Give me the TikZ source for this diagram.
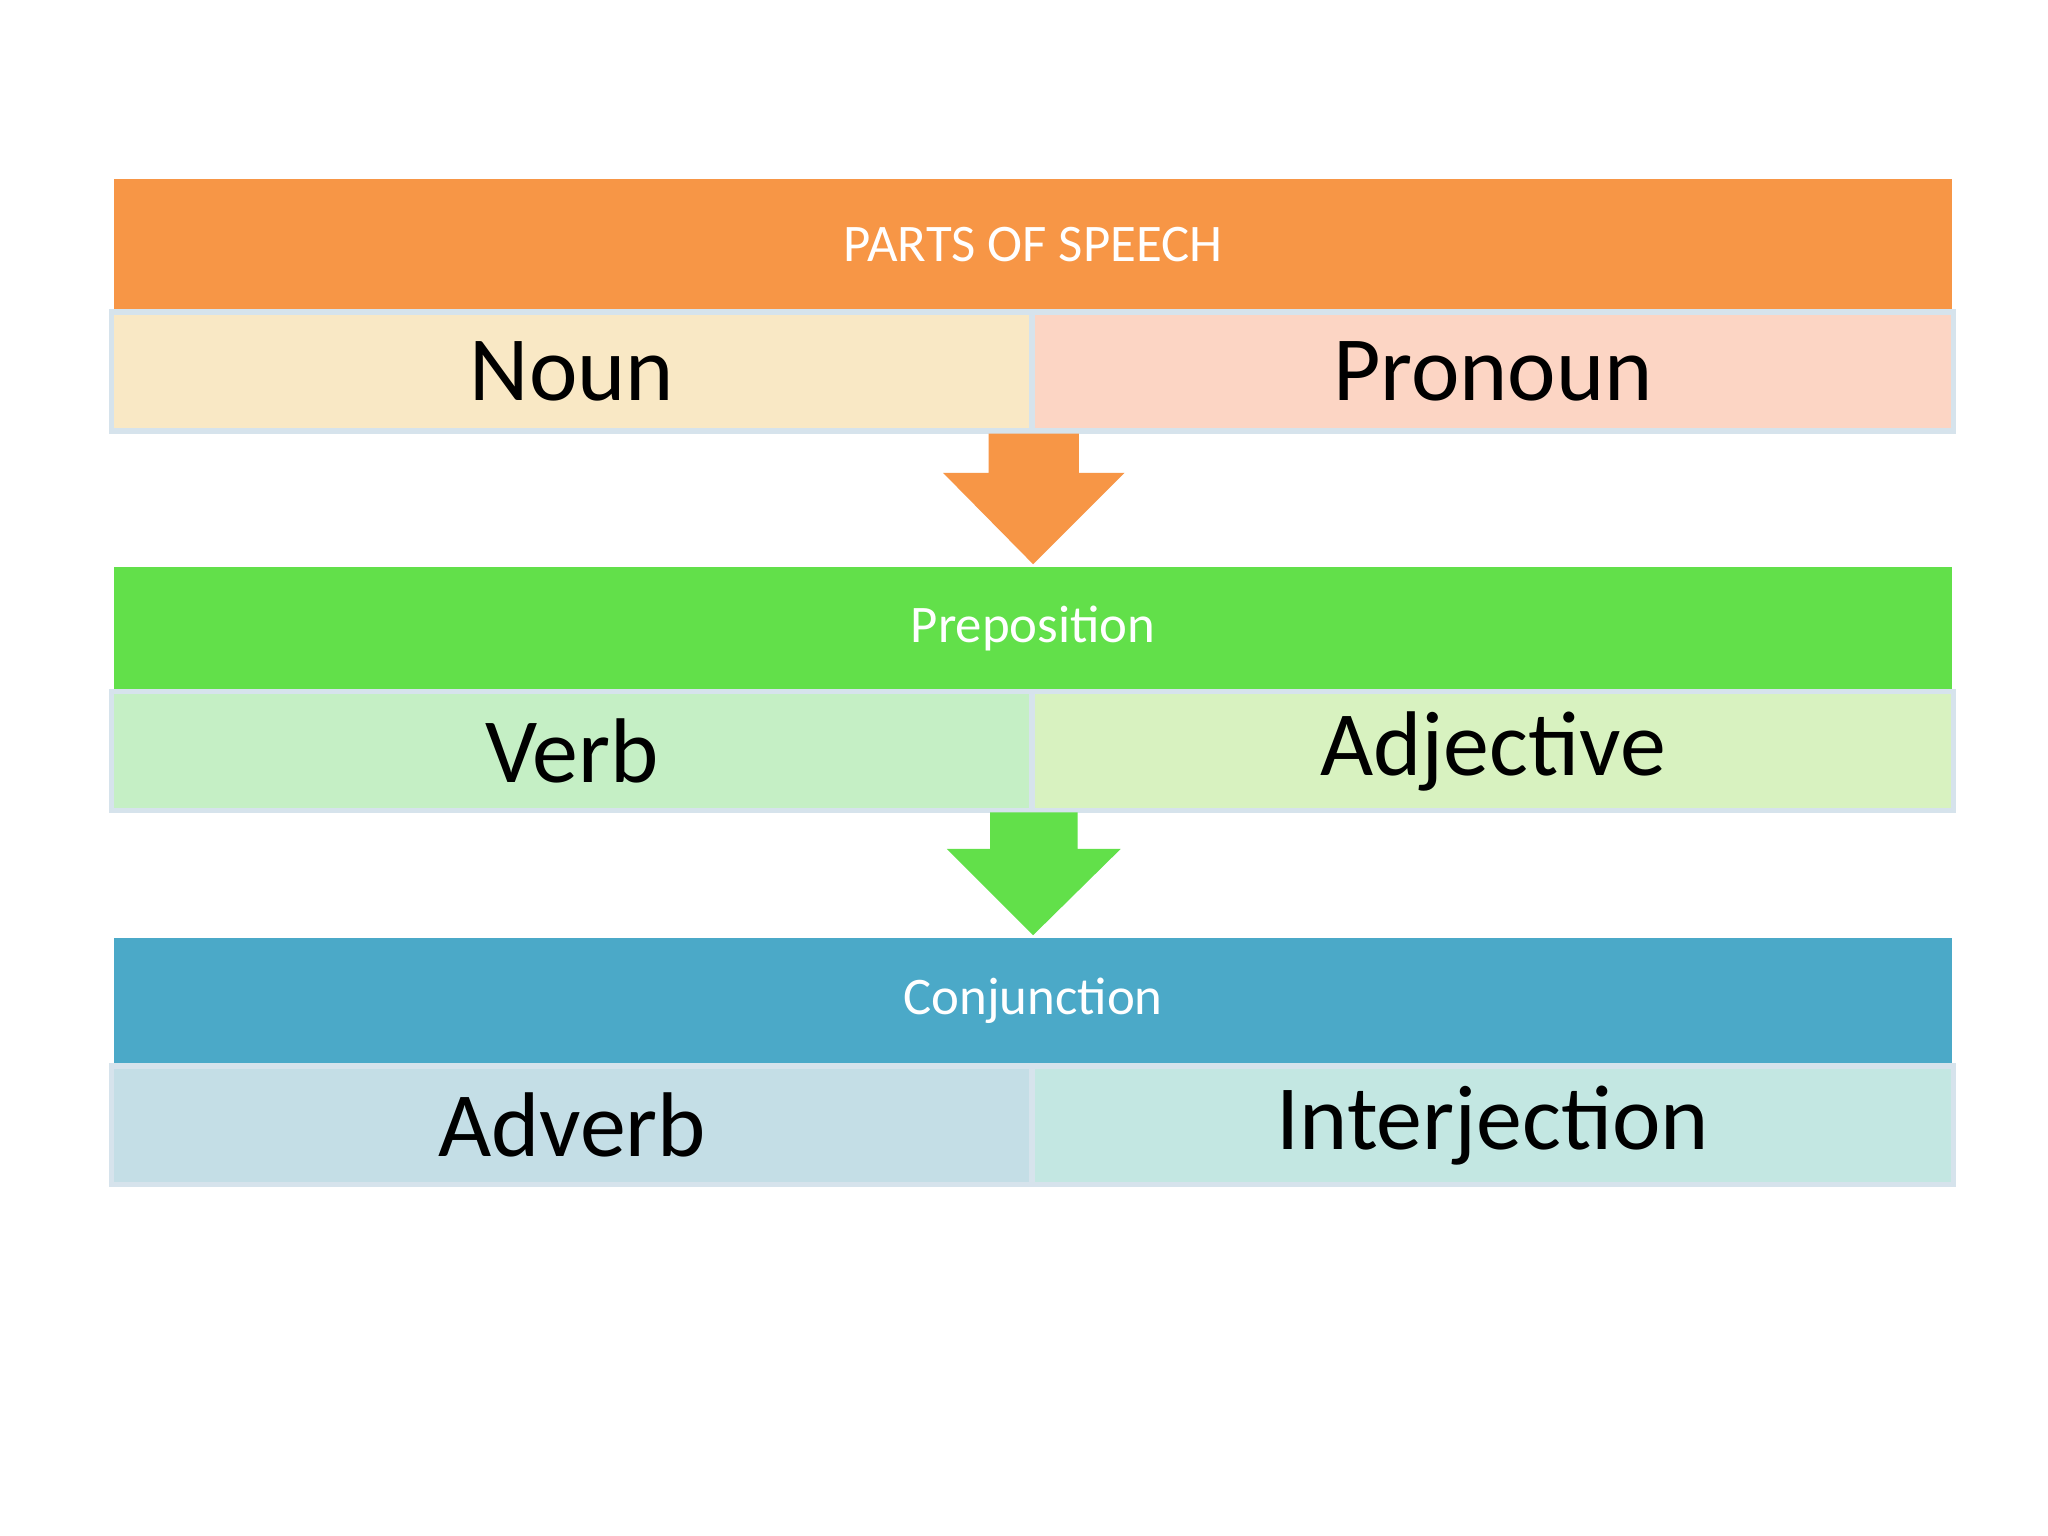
\documentclass[tikz,border=0pt]{standalone}
\usepackage{fontspec}
\setmainfont{Carlito}
\definecolor{cOr}{HTML}{F79646}
\definecolor{cGr}{HTML}{62E04A}
\definecolor{cBl}{HTML}{4BA9C8}
\definecolor{cNoun}{HTML}{F9E8C5}
\definecolor{cPro}{HTML}{FCD5C4}
\definecolor{cVerb}{HTML}{C5EFC5}
\definecolor{cAdj}{HTML}{D8F2C0}
\definecolor{cAdv}{HTML}{C4DEE6}
\definecolor{cInt}{HTML}{C3E7E2}
\definecolor{cEdge}{HTML}{D6E3EC}
\tikzset{
 hdr/.style={inner sep=0pt,minimum width=14.06cm,minimum height=#1,text=white,font=\fontsize{11.5pt}{13pt}\selectfont},
 cell/.style={inner sep=0pt,draw=cEdge,line width=1.2pt,minimum width=7.05cm,minimum height=0.91cm,font=\fontsize{20pt}{24pt}\selectfont}
}
\begin{document}
\begin{tikzpicture}[x=0.01cm,y=-0.01cm]
\useasboundingbox[fill=white] (0,0) rectangle (1568,1176);
\node[hdr=1.0cm,fill=cOr] (h1) at (791,187) {PARTS OF SPEECH};
\node[cell,fill=cNoun] (noun) at (438,284.5) {Noun};
\node[cell,fill=cPro] (pron) at (1143,284.5) {Pronoun};
\fill[cOr] (757,332) -- (826,332) -- (826,362) -- (861,362) -- (791,432) -- (722,362) -- (757,362) -- cycle;
\node[hdr=0.94cm,fill=cGr] (h2) at (791,481) {Preposition};
\node[cell,fill=cVerb] (verb) at (438,575) {Verb};
\node[cell,fill=cAdj] (adj) at (1143,575) {Adjective};
\fill[cGr] (758,622) -- (825,622) -- (825,650) -- (858,650) -- (791,716) -- (725,650) -- (758,650) -- cycle;
\node[hdr=0.96cm,fill=cBl] (h3) at (791,766) {Conjunction};
\node[cell,fill=cAdv] (adv) at (438,861.5) {Adverb};
\node[cell,fill=cInt] (intj) at (1143,861.5) {Interjection};
\end{tikzpicture}
\end{document}
